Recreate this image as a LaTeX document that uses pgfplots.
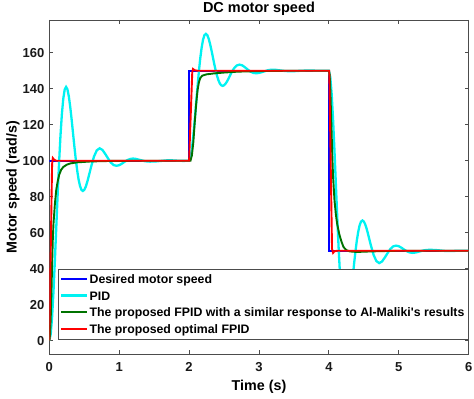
\documentclass[border=0pt]{standalone}
\usepackage{fontspec}
\setmainfont{Liberation Sans}
\usepackage{pgfplots}
\pgfplotsset{compat=1.18}
\definecolor{mblue}{rgb}{0,0,1}
\definecolor{mcyan}{rgb}{0,0.95,0.95}
\definecolor{mgreen}{rgb}{0,0.45,0}
\definecolor{mred}{rgb}{1,0,0}
\definecolor{axgray}{rgb}{0.3,0.3,0.3}
\begin{document}
\begin{tikzpicture}
\useasboundingbox (-49.3pt,-45pt) rectangle (424.7pt,354pt);
\begin{axis}[
  at={(0,0)}, anchor=south west,
  scale only axis, width=419.4pt, height=334pt,
  xmin=0, xmax=6, ymin=-7.4, ymax=178.2,
  xtick={0,1,2,3,4,5,6}, ytick={0,20,40,60,80,100,120,140,160},
  tick align=inside, xtick pos=both, ytick pos=both,
  major tick length=4pt,
  axis line style={axgray, line width=0.8pt},
  every tick/.style={axgray, line width=0.8pt},
  /pgf/number format/assume math mode=true,
  ticklabel style={font=\fontsize{13}{15}\selectfont\bfseries, text=black!90},
  xticklabel style={anchor=center, yshift=-13.3pt},
  yticklabel style={anchor=east, xshift=-1.5pt},
  title={DC motor speed},
  every axis title shift=0pt,
  title style={font=\fontsize{14.5}{17}\selectfont\bfseries, at={(axis description cs:0.5,1.033)}, anchor=center, yshift=0pt},
  xlabel={Time (s)},
  ylabel={Motor speed (rad/s)},
  label style={font=\fontsize{14.3}{17}\selectfont\bfseries},
  xlabel style={at={(axis description cs:0.5,-0.0997)}, anchor=center},
  ylabel style={at={(axis description cs:-0.0866,0.5)}, anchor=center},
  legend cell align=left,
  legend image code/.code={\draw[#1] (0pt,0pt) -- (26pt,0pt);},
  legend style={at={(0.02,0.045)}, anchor=south west, draw=axgray, fill=white,
    font=\fontsize{12.3}{14}\selectfont\bfseries, inner xsep=2pt, inner ysep=1.5pt,
    nodes={inner xsep=1.5pt, inner ysep=2.35pt, text height=10.5pt, text depth=1.5pt}},
]
\addplot[mblue, line width=1.9pt] coordinates {(0,100)(2,100)(2,150)(4,150)(4,50)(6,50)};
\addlegendentry{Desired motor speed}
\addplot[mcyan, line width=2.3pt] coordinates {
(0,0)(0.02,3.5)(0.04,13.1)(0.06,27.4)(0.08,44.6)(0.10,63.2)(0.12,81.8)(0.14,99.1)(0.16,114.0)(0.18,125.9)(0.20,134.5)(0.22,139.5)(0.24,141.0)(0.26,139.6)(0.28,135.6)(0.30,129.8)(0.32,122.7)(0.34,115.1)(0.36,107.5)(0.38,100.4)(0.40,94.3)(0.42,89.4)(0.44,85.9)(0.46,83.8)(0.48,83.2)(0.50,83.8)(0.52,85.4)(0.54,87.8)(0.56,90.7)(0.58,93.8)(0.60,96.9)(0.64,102.4)(0.68,105.8)(0.72,106.9)(0.76,106.0)(0.80,103.8)(0.84,101.3)(0.88,99.0)(0.92,97.6)(0.96,97.2)(1.00,97.5)(1.04,98.4)(1.08,99.5)(1.12,100.4)(1.16,101.0)(1.20,101.2)(1.24,101.0)(1.28,100.6)(1.32,100.2)(1.36,99.8)(1.40,99.6)(1.44,99.5)(1.52,99.6)(1.60,99.9)(1.68,100.2)(1.76,100.2)(1.84,100.0)(1.92,99.9)(2.00,100.0)
(2.02,101.8)(2.04,106.6)(2.06,113.7)(2.08,122.3)(2.10,131.6)(2.12,140.9)(2.14,149.6)(2.16,157.0)(2.18,163.0)(2.20,167.3)(2.22,169.8)(2.24,170.5)(2.26,169.8)(2.28,167.8)(2.30,164.9)(2.32,161.4)(2.34,157.6)(2.36,153.7)(2.38,150.2)(2.40,147.1)(2.42,144.7)(2.44,142.9)(2.46,141.9)(2.48,141.6)(2.50,141.9)(2.52,142.7)(2.54,143.9)(2.56,145.3)(2.58,146.9)(2.60,148.5)(2.64,151.2)(2.68,152.9)(2.72,153.4)(2.76,153.0)(2.80,151.9)(2.84,150.6)(2.88,149.5)(2.92,148.8)(2.96,148.6)(3.00,148.8)(3.04,149.2)(3.08,149.7)(3.12,150.2)(3.16,150.5)(3.20,150.6)(3.24,150.5)(3.28,150.3)(3.32,150.1)(3.36,149.9)(3.40,149.8)(3.44,149.8)(3.52,149.8)(3.60,150.0)(3.68,150.1)(3.76,150.1)(3.84,150.0)(4.00,150.0)
(4.02,146.5)(4.04,136.9)(4.06,122.6)(4.08,105.4)(4.10,86.8)(4.12,68.2)(4.14,50.9)(4.16,36.0)(4.18,24.1)(4.20,15.5)(4.22,10.5)(4.24,9.0)(4.26,10.4)(4.28,14.4)(4.30,20.2)(4.32,27.3)(4.34,34.9)(4.36,42.6)(4.38,49.6)(4.40,55.8)(4.42,60.6)(4.44,64.2)(4.46,66.2)(4.48,66.8)(4.50,66.2)(4.52,64.6)(4.54,62.2)(4.56,59.3)(4.58,56.2)(4.60,53.1)(4.64,47.6)(4.68,44.2)(4.72,43.1)(4.76,44.0)(4.80,46.2)(4.84,48.7)(4.88,51.0)(4.92,52.4)(4.96,52.8)(5.00,52.5)(5.04,51.6)(5.08,50.5)(5.12,49.6)(5.16,49.0)(5.20,48.8)(5.24,49.0)(5.28,49.4)(5.32,49.8)(5.36,50.2)(5.40,50.4)(5.44,50.5)(5.52,50.4)(5.60,50.1)(5.68,49.8)(5.76,49.8)(5.84,50.0)(6.00,50.0)};
\addlegendentry{PID}
\addplot[mgreen, line width=1.9pt] coordinates {
(0,0)(0.01,3)(0.02,12)(0.03,26)(0.04,42)(0.05,56)(0.06,65)(0.08,76)(0.10,84)(0.12,88.5)(0.14,92)(0.17,95)(0.20,96.5)(0.25,97.8)(0.30,98.5)(0.40,99.1)(0.60,99.6)(0.90,99.9)(1.30,100)(2.02,100)
(2.04,103)(2.06,110)(2.08,121)(2.10,131)(2.12,139)(2.14,143.5)(2.16,146)(2.19,147.3)(2.25,148)(2.35,148.5)(2.50,149)(2.70,149.5)(3.00,149.8)(3.40,150)(4.00,150)
(4.01,148)(4.02,140)(4.03,127)(4.04,114)(4.05,101)(4.06,91)(4.08,78)(4.10,70)(4.12,64.5)(4.15,59)(4.18,55)(4.21,52)(4.25,50.3)(4.30,49.6)(4.40,49.3)(4.60,49.6)(5.00,50)(6.00,50)};
\addlegendentry{The proposed FPID with a similar response to Al-Maliki\textquotesingle s results}
\addplot[mred, line width=1.9pt] coordinates {
(0,0)(0.04,98)(0.05,101.5)(0.07,100.5)(0.10,100)(2.00,100)(2.045,149)(2.055,151)(2.08,150.3)(2.12,150)(4.005,150)(4.045,51)(4.06,48.8)(4.08,49.7)(4.12,50)(6,50)};
\addlegendentry{The proposed optimal FPID}
\end{axis}
\end{tikzpicture}
\end{document}
